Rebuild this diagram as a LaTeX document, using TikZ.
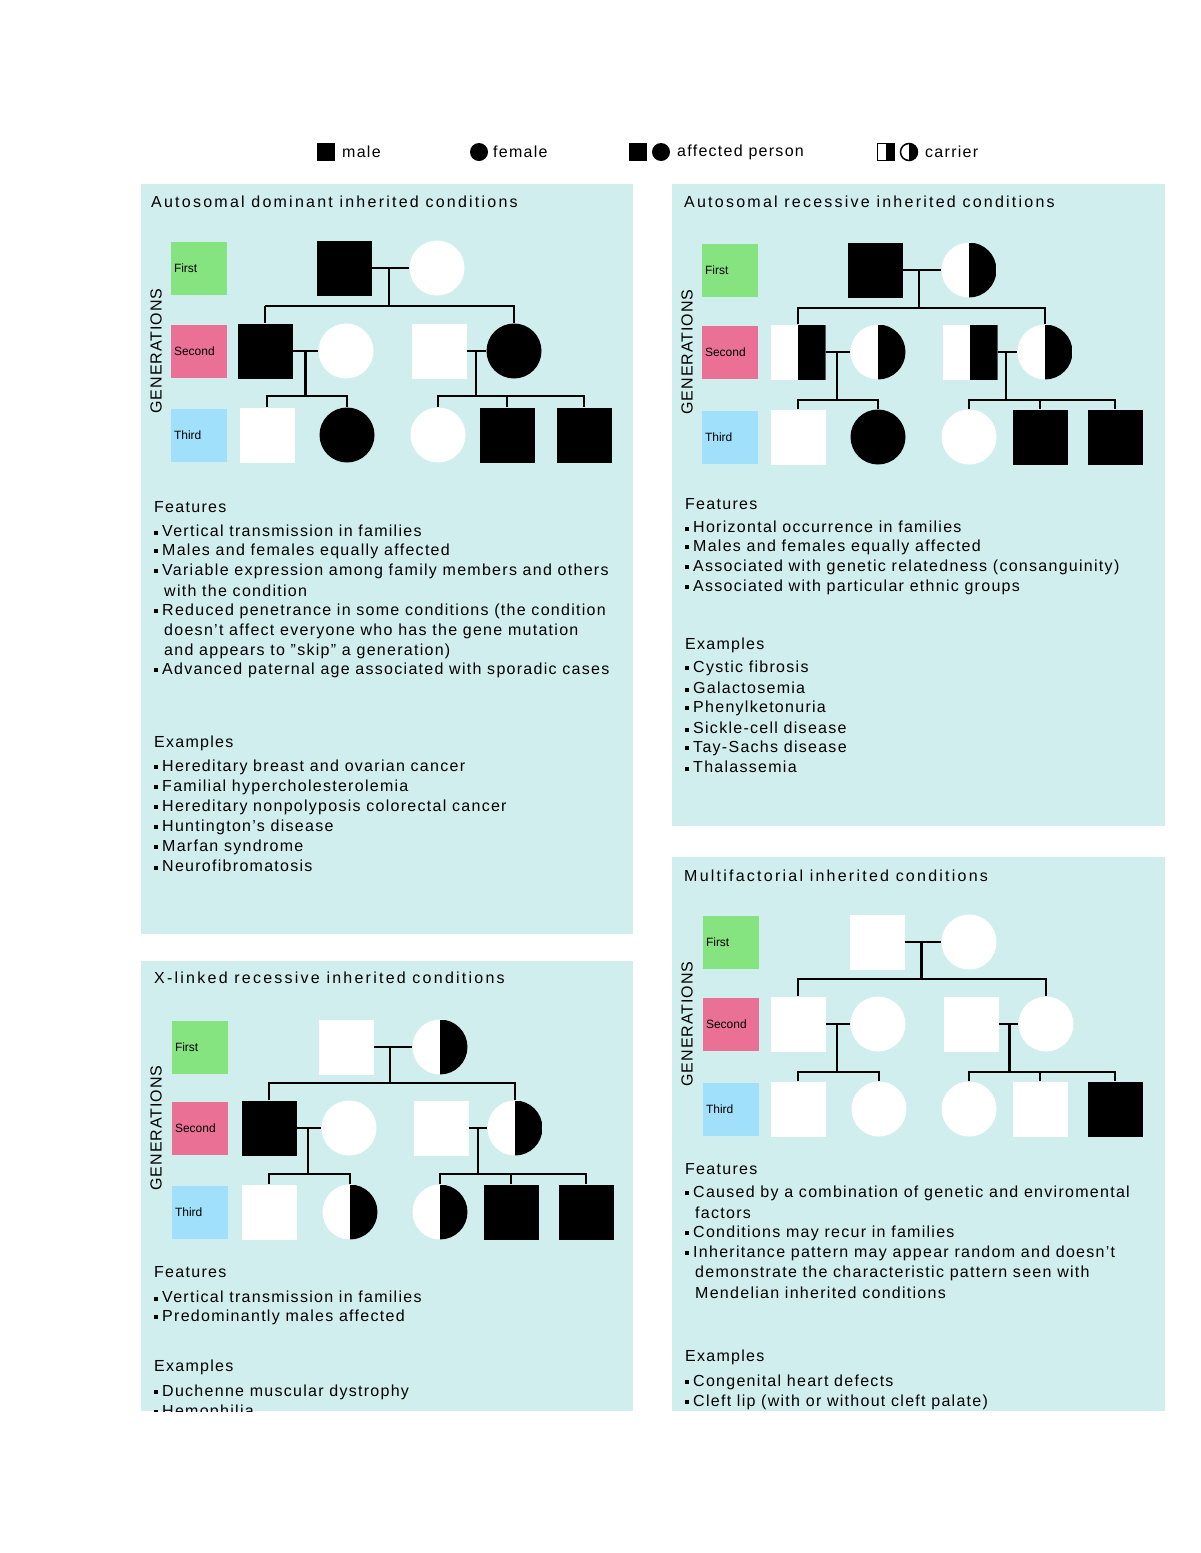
\documentclass[tikz,border=0pt]{standalone}
\usepackage{fontspec}
\setmainfont{Liberation Sans}
\begin{document}
\begin{tikzpicture}[x=1pt,y=-1pt,
  panel/.style={fill=panelc,draw=none},
  sym/.style={draw=none,inner sep=0pt,minimum size=55pt},
  sq/.style={sym,rectangle,fill=white},
  ci/.style={sym,circle,fill=white},
  aff/.style={fill=black},
  half/.style={path picture={\fill[black] (path picture bounding box.north) rectangle (path picture bounding box.south east);}},
  gen/.style={inner sep=0pt,minimum width=56pt,minimum height=53pt,font=\fontsize{12}{12}\selectfont,text=black,anchor=center,align=left,text width=50pt},
  ln/.style={line width=2pt},
  tx/.style={anchor=west,inner sep=0pt,font=\fontsize{16}{16}\selectfont\addfontfeature{LetterSpace=8}},
  ttl/.style={anchor=west,inner sep=0pt,font=\fontsize{16}{16}\selectfont\addfontfeature{LetterSpace=14}},
  gtx/.style={rotate=90,inner sep=0pt,font=\fontsize{16}{16}\selectfont\addfontfeature{LetterSpace=6}}]
\definecolor{panelc}{HTML}{D0EEEE}
\definecolor{gg}{HTML}{85E47F}
\definecolor{pp}{HTML}{EA7096}
\definecolor{bb}{HTML}{A0E0FA}
\newcommand{\bl}{\rule[2pt]{4pt}{4pt}\hspace{4pt}}
\useasboundingbox (0,0) rectangle (1200,1553);
\fill[white] (0,0) rectangle (1200,1553);
% legend
\node[sq,aff,minimum size=18pt] (l1) at (326,152) {};
\node[tx] (l1t) at (342,152) {male};
\node[ci,aff,minimum size=18pt] (l2) at (479,152) {};
\node[tx] (l2t) at (493,152) {female};
\node[sq,aff,minimum size=18pt] (l3) at (638,152) {};
\node[ci,aff,minimum size=18pt] (l4) at (661,152) {};
\node[tx] (l3t) at (677,152) {affected person};
\node[sq,draw=black,line width=1.5pt,minimum size=17pt,half] (l5) at (886,152) {};
\node[ci,draw=black,line width=1.5pt,minimum size=17pt,half] (l6) at (909,152) {};
\node[tx] (l5t) at (925,152) {carrier};
% panels
\fill[panelc] (141,184) rectangle (633,934);
\fill[panelc] (672,184) rectangle (1165,826);
\fill[panelc] (141,961) rectangle (633,1411);
\fill[panelc] (672,857) rectangle (1165,1411);

%%%%% Panel 1
\node[ttl] (t1) at (151,202) {Autosomal dominant inherited conditions};
\node[gen,fill=gg] (g11) at (199,268) {First};
\node[gen,fill=pp] (g12) at (199,351) {Second};
\node[gen,fill=bb] (g13) at (199,435) {Third};
\node[gtx] (G1) at (156,351) {GENERATIONS};
\node[sq,aff] (a1) at (344,268) {};
\node[ci] (a2) at (437,268) {};
\node[sq,aff] (a3) at (265,351) {};
\node[ci] (a4) at (346,351) {};
\node[sq] (a5) at (439,351) {};
\node[ci,aff] (a6) at (514,351) {};
\node[sq] (a7) at (267,435) {};
\node[ci,aff] (a8) at (347,435) {};
\node[ci] (a9) at (438,435) {};
\node[sq,aff] (a10) at (507,435) {};
\node[sq,aff] (a11) at (584,435) {};
\draw[ln] (a1.east) -- (a2.west);
\draw[ln] (389,268) -- (389,306);
\draw[ln] (a3.north |- 0,306) -- (a3.north) (a3.north |- 0,306) -- (a6.north |- 0,306) -- (a6.north);
\draw[ln] (a3.east) -- (a4.west);
\draw[line width=3pt] (305,351) -- (305,396);
\draw[ln] (a7.north) -- (a7.north |- 0,396) -- (a8.north |- 0,396) -- (a8.north);
\draw[ln] (a5.east) -- (a6.west);
\draw[ln] (476,351) -- (476,396);
\draw[ln] (a9.north) -- (a9.north |- 0,396) -- (a11.north |- 0,396) -- (a11.north);
\draw[ln] (a10.north) -- (a10.north |- 0,396);
\node[tx] at (154,507) {Features};
\node[tx] at (154,531) {\bl Vertical transmission in families};
\node[tx] at (154,551) {\bl Males and females equally affected};
\node[tx] at (154,571) {\bl Variable expression among family members and others};
\node[tx] at (164,591) {with the condition};
\node[tx] at (154,611) {\bl Reduced penetrance in some conditions (the condition};
\node[tx] at (164,631) {doesn't affect everyone who has the gene mutation};
\node[tx] at (164,651) {and appears to "skip" a generation)};
\node[tx] at (154,670) {\bl Advanced paternal age associated with sporadic cases};
\node[tx] at (154,743) {Examples};
\node[tx] at (154,767) {\bl Hereditary breast and ovarian cancer};
\node[tx] at (154,787) {\bl Familial hypercholesterolemia};
\node[tx] at (154,807) {\bl Hereditary nonpolyposis colorectal cancer};
\node[tx] at (154,827) {\bl Huntington's disease};
\node[tx] at (154,847) {\bl Marfan syndrome};
\node[tx] at (154,866) {\bl Neurofibromatosis};

%%%%% Panel 2
\node[ttl] (t2) at (684,202) {Autosomal recessive inherited conditions};
\node[gen,fill=gg] (g21) at (730,270) {First};
\node[gen,fill=pp] (g22) at (730,352) {Second};
\node[gen,fill=bb] (g23) at (730,437) {Third};
\node[gtx] (G2) at (687,352) {GENERATIONS};
\node[sq,aff] (b1) at (875,270) {};
\node[ci,half] (b2) at (969,270) {};
\node[sq,half] (b3) at (798,352) {};
\node[ci,half] (b4) at (878,352) {};
\node[sq,half] (b5) at (970,352) {};
\node[ci,half] (b6) at (1045,352) {};
\node[sq] (b7) at (798,437) {};
\node[ci,aff] (b8) at (878,437) {};
\node[ci] (b9) at (969,437) {};
\node[sq,aff] (b10) at (1040,437) {};
\node[sq,aff] (b11) at (1115,437) {};
\draw[ln] (b1.east) -- (b2.west);
\draw[ln] (919,270) -- (919,308);
\draw[ln] (b3.north) -- (b3.north |- 0,308) -- (b6.north |- 0,308) -- (b6.north);
\draw[ln] (b3.east) -- (b4.west);
\draw[ln] (837,352) -- (837,400);
\draw[ln] (b7.north) -- (b7.north |- 0,400) -- (b8.north |- 0,400) -- (b8.north);
\draw[ln] (b5.east) -- (b6.west);
\draw[ln] (1006,352) -- (1006,400);
\draw[ln] (b9.north) -- (b9.north |- 0,400) -- (b11.north |- 0,400) -- (b11.north);
\draw[ln] (b10.north) -- (b10.north |- 0,400);
\node[tx] at (685,504) {Features};
\node[tx] at (685,527) {\bl Horizontal occurrence in families};
\node[tx] at (685,547) {\bl Males and females equally affected};
\node[tx] at (685,567) {\bl Associated with genetic relatedness (consanguinity)};
\node[tx] at (685,587) {\bl Associated with particular ethnic groups};
\node[tx] at (685,645) {Examples};
\node[tx] at (685,668) {\bl Cystic fibrosis};
\node[tx] at (685,688) {\bl Galactosemia};
\node[tx] at (685,708) {\bl Phenylketonuria};
\node[tx] at (685,728) {\bl Sickle-cell disease};
\node[tx] at (685,748) {\bl Tay-Sachs disease};
\node[tx] at (685,767) {\bl Thalassemia};

%%%%% Panel 3
\node[ttl] (t3) at (154,978) {X-linked recessive inherited conditions};
\node[gen,fill=gg] (g31) at (200,1047) {First};
\node[gen,fill=pp] (g32) at (200,1128) {Second};
\node[gen,fill=bb] (g33) at (200,1212) {Third};
\node[gtx] (G3) at (156,1128) {GENERATIONS};
\node[sq] (c1) at (346,1047) {};
\node[ci,half] (c2) at (440,1047) {};
\node[sq,aff] (c3) at (269,1128) {};
\node[ci] (c4) at (349,1128) {};
\node[sq] (c5) at (441,1128) {};
\node[ci,half] (c6) at (515,1128) {};
\node[sq] (c7) at (269,1212) {};
\node[ci,half] (c8) at (350,1212) {};
\node[ci,half] (c9) at (440,1212) {};
\node[sq,aff] (c10) at (511,1212) {};
\node[sq,aff] (c11) at (586,1212) {};
\draw[ln] (c1.east) -- (c2.west);
\draw[ln] (390,1047) -- (390,1083);
\draw[ln] (c3.north) -- (c3.north |- 0,1083) -- (c6.north |- 0,1083) -- (c6.north);
\draw[ln] (c3.east) -- (c4.west);
\draw[ln] (308,1128) -- (308,1174);
\draw[ln] (c7.north) -- (c7.north |- 0,1174) -- (c8.north |- 0,1174) -- (c8.north);
\draw[ln] (c5.east) -- (c6.west);
\draw[ln] (478,1128) -- (478,1174);
\draw[ln] (c9.north) -- (c9.north |- 0,1174) -- (c11.north |- 0,1174) -- (c11.north);
\draw[ln] (c10.north) -- (c10.north |- 0,1174);
\node[tx] at (154,1272) {Features};
\node[tx] at (154,1297) {\bl Vertical transmission in families};
\node[tx] at (154,1317) {\bl Predominantly males affected};
\node[tx] at (154,1367) {Examples};
\node[tx] at (154,1392) {\bl Duchenne muscular dystrophy};
\begin{scope}
\clip (141,1400) rectangle (633,1411);
\node[tx] at (154,1412) {\bl Hemophilia};
\end{scope}

%%%%% Panel 4
\node[ttl] (t4) at (684,876) {Multifactorial inherited conditions};
\node[gen,fill=gg] (g41) at (731,942) {First};
\node[gen,fill=pp] (g42) at (731,1024) {Second};
\node[gen,fill=bb] (g43) at (731,1109) {Third};
\node[gtx] (G4) at (687,1024) {GENERATIONS};
\node[sq] (d1) at (877,942) {};
\node[ci] (d2) at (969,942) {};
\node[sq] (d3) at (798,1024) {};
\node[ci] (d4) at (878,1024) {};
\node[sq] (d5) at (971,1024) {};
\node[ci] (d6) at (1046,1024) {};
\node[sq] (d7) at (798,1109) {};
\node[ci] (d8) at (879,1109) {};
\node[ci] (d9) at (969,1109) {};
\node[sq] (d10) at (1040,1109) {};
\node[sq,aff] (d11) at (1115,1109) {};
\draw[ln] (d1.east) -- (d2.west);
\draw[line width=3pt] (921,942) -- (921,979);
\draw[ln] (d3.north) -- (d3.north |- 0,979) -- (d6.north |- 0,979) -- (d6.north);
\draw[ln] (d3.east) -- (d4.west);
\draw[ln] (837,1024) -- (837,1072);
\draw[ln] (d7.north) -- (d7.north |- 0,1072) -- (d8.north |- 0,1072) -- (d8.north);
\draw[ln] (d5.east) -- (d6.west);
\draw[line width=3pt] (1009,1024) -- (1009,1072);
\draw[ln] (d9.north) -- (d9.north |- 0,1072) -- (d11.north |- 0,1072) -- (d11.north);
\draw[ln] (d10.north) -- (d10.north |- 0,1072);
\node[tx] at (685,1169) {Features};
\node[tx] at (685,1193) {\bl Caused by a combination of genetic and enviromental};
\node[tx] at (695,1213) {factors};
\node[tx] at (685,1233) {\bl Conditions may recur in families};
\node[tx] at (685,1253) {\bl Inheritance pattern may appear random and doesn't};
\node[tx] at (695,1273) {demonstrate the characteristic pattern seen with};
\node[tx] at (695,1293) {Mendelian inherited conditions};
\node[tx] at (685,1357) {Examples};
\node[tx] at (685,1382) {\bl Congenital heart defects};
\node[tx] at (685,1402) {\bl Cleft lip (with or without cleft palate)};
\end{tikzpicture}
\end{document}
